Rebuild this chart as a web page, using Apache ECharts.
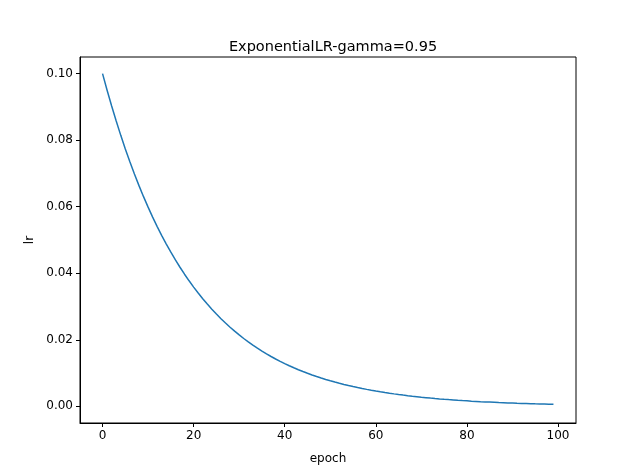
<!DOCTYPE html>
<html>
<head>
<meta charset="utf-8">
<script src="https://cdn.jsdelivr.net/npm/echarts@6/dist/echarts.min.js"></script>
<style>html,body{margin:0;padding:0;background:#fff}#main{width:640px;height:476px}</style>
</head>
<body>
<div id="main"></div>
<script>
// lr values read per epoch (0..99)
var lr = [
  0.1, 0.095, 0.09025, 0.085738, 0.081451, 0.077378, 0.073509, 0.069834, 0.066342, 0.063025,
  0.059874, 0.05688, 0.054036, 0.051334, 0.048767, 0.046329, 0.044013, 0.041812, 0.039721, 0.037735,
  0.035849, 0.034056, 0.032353, 0.030736, 0.029199, 0.027739, 0.026352, 0.025034, 0.023783, 0.022594,
  0.021464, 0.020391, 0.019371, 0.018403, 0.017482, 0.016608, 0.015778, 0.014989, 0.01424, 0.013528,
  0.012851, 0.012209, 0.011598, 0.011018, 0.010467, 0.009944, 0.009447, 0.008975, 0.008526, 0.0081,
  0.007695, 0.00731, 0.006944, 0.006597, 0.006267, 0.005954, 0.005656, 0.005373, 0.005105, 0.00485,
  0.004607, 0.004377, 0.004158, 0.00395, 0.003752, 0.003565, 0.003387, 0.003217, 0.003056, 0.002904,
  0.002758, 0.002621, 0.002489, 0.002365, 0.002247, 0.002134, 0.002028, 0.001926, 0.00183, 0.001739,
  0.001652, 0.001569, 0.001491, 0.001416, 0.001345, 0.001278, 0.001214, 0.001153, 0.001096, 0.001041,
  0.000989, 0.000939, 0.000893, 0.000848, 0.000805, 0.000765, 0.000727, 0.000691, 0.000656, 0.000623
];
var xTicks = [0, 20, 40, 60, 80, 100];
var yTicks = [0, 0.02, 0.04, 0.06, 0.08, 0.1];

var points = lr.map(function (v, i) { return [i, v]; });
var font = 'DejaVu Sans';
var chart = echarts.init(document.getElementById('main'));
chart.setOption({
  animation: false,
  title: {
    text: 'ExponentialLR-gamma=0.95', left: 328, top: 35, textAlign: 'center',
    textStyle: { fontFamily: font, fontSize: 14.5, fontWeight: 'normal', color: '#000' }
  },
  grid: { left: 80, right: 64, top: 57, bottom: 53, show: true, borderColor: '#000', borderWidth: 1 },
  xAxis: {
    type: 'value', min: -4.95, max: 103.95,
    name: 'epoch', nameLocation: 'middle', nameGap: 30,
    nameTextStyle: { fontFamily: font, fontSize: 12, color: '#000' },
    axisLine: { show: true, onZero: false, lineStyle: { color: '#000' } },
    axisTick: { show: true, length: 4, lineStyle: { color: '#000' }, customValues: xTicks },
    axisLabel: { fontFamily: font, fontSize: 12, color: '#000', margin: 7, customValues: xTicks },
    splitLine: { show: false }
  },
  yAxis: {
    type: 'value', min: -0.005, max: 0.105,
    name: 'lr', nameLocation: 'middle', nameGap: 44,
    nameTextStyle: { fontFamily: font, fontSize: 12, color: '#000' },
    axisLine: { show: true, onZero: false, lineStyle: { color: '#000' } },
    axisTick: { show: true, length: 4, lineStyle: { color: '#000' }, customValues: yTicks },
    axisLabel: { fontFamily: font, fontSize: 12, color: '#000', margin: 7, customValues: yTicks,
      formatter: function (v) { return v.toFixed(2); } },
    splitLine: { show: false }
  },
  series: [{
    type: 'line', data: points, showSymbol: false,
    lineStyle: { color: '#1f77b4', width: 1.5 }
  }]
});
</script>
</body>
</html>
